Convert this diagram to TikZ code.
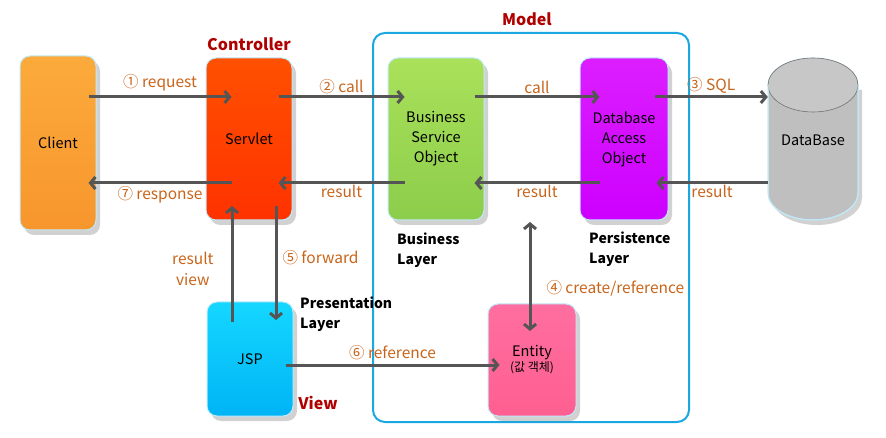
\documentclass[tikz,border=0pt]{standalone}
\usepackage{fontspec}
\setmainfont{Noto Sans CJK KR}
\usetikzlibrary{shadows,arrows.meta,calc}
\definecolor{arr}{HTML}{555555}
\definecolor{lbl}{HTML}{C8641A}
\definecolor{dred}{HTML}{B00000}
\definecolor{modelc}{HTML}{1BA8E0}
\tikzset{
  box/.style={rounded corners=10pt, draw=cyan!25, line width=1pt, align=center,
    font=\fontsize{14.5}{20}\selectfont, text=black,
    drop shadow={shadow xshift=4pt, shadow yshift=-5pt, opacity=0.3, fill=black!60}},
  flow/.style={draw=arr, line width=3pt, -{Straight Barb[length=5pt,width=12pt]}},
  flowb/.style={draw=arr, line width=3pt, {Straight Barb[length=5pt,width=12pt]}-{Straight Barb[length=5pt,width=12pt]}},
  lab/.style={text=lbl, font=\fontsize{15.5}{19}\selectfont, inner sep=1pt},
  layer/.style={text=black, font=\bfseries\fontsize{14}{20}\selectfont, align=left, inner sep=0pt},
  title/.style={text=dred, font=\bfseries\fontsize{16}{19}\selectfont, inner sep=0pt},
}
\begin{document}
\begin{tikzpicture}[x=1pt,y=-1pt]
\useasboundingbox (0,0) rectangle (886,438);
% Model frame
\node[draw=modelc, line width=2pt, rounded corners=12pt, minimum width=316pt, minimum height=389pt, anchor=north west] (model) at (372,32) {};
\node[title] (modelt) at (527,19) {Model};
\node[title] (ctrlt) at (249,44) {Controller};
\node[title] (viewt) at (318,403) {View};
% boxes
\node[box, top color={rgb,255:red,252;green,170;blue,60}, bottom color={rgb,255:red,247;green,150;blue,45}, minimum width=76pt, minimum height=174pt] (client) at (58,143) {Client};
\node[box, top color={rgb,255:red,255;green,80;blue,0}, bottom color={rgb,255:red,255;green,50;blue,0}, minimum width=86pt, minimum height=162pt] (servlet) at (249,139) {Servlet};
\node[box, top color={rgb,255:red,170;green,225;blue,90}, bottom color={rgb,255:red,140;green,205;blue,75}, minimum width=96pt, minimum height=162pt] (bso) at (436,139) {Business\\Service\\Object};
\node[box, top color={rgb,255:red,220;green,30;blue,255}, bottom color={rgb,255:red,205;green,0;blue,255}, minimum width=88pt, minimum height=162pt] (dao) at (624,139) {Database\\Access\\Object};
\node[box, top color={rgb,255:red,20;green,215;blue,255}, bottom color={rgb,255:red,0;green,180;blue,245}, minimum width=86pt, minimum height=114pt] (jsp) at (250,359) {JSP};
\node[box, top color={rgb,255:red,255;green,110;blue,160}, bottom color={rgb,255:red,255;green,95;blue,145}, minimum width=88pt, minimum height=112pt] (entity) at (532,360) {Entity\\[-5pt]{\fontsize{12}{14}\selectfont(값 객체)}};
% database cylinder
\fill[black!60, opacity=0.3] (772,90) -- (772,198) arc[start angle=180, end angle=360, x radius=45pt, y radius=27pt] -- (862,90) -- cycle;
\filldraw[fill=black!25, draw=cyan!25, line width=1pt] (768,85) -- (768,193) arc[start angle=180, end angle=360, x radius=45pt, y radius=27pt] -- (858,85) arc[start angle=0, end angle=180, x radius=45pt, y radius=27pt];
\draw[fill=black!22, draw=black!55, line width=0.6pt] (813,85) ellipse[x radius=45pt, y radius=27pt];
\draw[cyan!25, line width=1pt] (768,85) -- (768,193) arc[start angle=180, end angle=360, x radius=45pt, y radius=27pt] -- (858,85);
\node[inner sep=0pt, minimum width=90pt, minimum height=164pt, font=\fontsize{14.5}{18}\selectfont] (db) at (813,140) {DataBase};
% level coordinates
\coordinate (up) at (0,97);
\coordinate (dn) at (0,183);
% arrows
\draw[flow] ($(client.east |- up)+(-8,0)$) -- node[lab, above=3pt] {① request} ($(servlet.west |- up)+(26,0)$);
\draw[flow] ($(servlet.east |- up)+(-14,0)$) -- node[lab, above=1pt] {② call} ($(bso.west |- up)+(17,0)$);
\draw[flow] ($(bso.east |- up)+(-10,0)$) -- node[lab, above=1pt] {call} ($(dao.west |- up)+(20,0)$);
\draw[flow] ($(dao.east |- up)+(-14,0)$) -- node[lab, above=1pt] {③ SQL} (db.west |- up);
\draw[flow] (db.west |- dn) -- node[lab, below=0pt] {result} ($(dao.east |- dn)+(-12,0)$);
\draw[flow] ($(dao.west |- dn)+(20,0)$) -- node[lab, below=0pt] {result} ($(bso.east |- dn)+(-10,0)$);
\draw[flow] ($(bso.west |- dn)+(17,0)$) -- node[lab, below=0pt] {result} ($(servlet.east |- dn)+(-14,0)$);
\draw[flow] ($(servlet.west |- dn)+(26,0)$) -- node[lab, below=1pt] {⑦ response} ($(client.east |- dn)+(-8,0)$);
\coordinate (fa) at (276,206);
\coordinate (fb) at (276,320);
\draw[flow] (fa) -- node[lab, right=4pt, pos=0.45] {⑤ forward} (fb);
\coordinate (ra) at (232,322);
\coordinate (rb) at (232,206);
\draw[flow] (ra) -- node[lab, left=16pt, align=center, font=\fontsize{15.5}{21}\selectfont, pos=0.46] {result\\view} (rb);
\coordinate (ca) at (530,222);
\coordinate (cb) at (530,331);
\draw[flowb] (ca) -- node[lab, right=14pt, pos=0.61] {④ create/reference} (cb);
\draw[flow] ($(jsp.east)+(-8,6)$) -- node[lab, above=3pt] {⑥ reference} ($(entity.west)+(12,5)$);
% layer labels
\node[layer, anchor=north west] (bl) at (397,233) {Business\\Layer};
\node[layer, anchor=north west] (pl) at (589,232) {Persistence\\Layer};
\node[layer, anchor=north west] (prl) at (300,297) {Presentation\\Layer};
\end{tikzpicture}
\end{document}
